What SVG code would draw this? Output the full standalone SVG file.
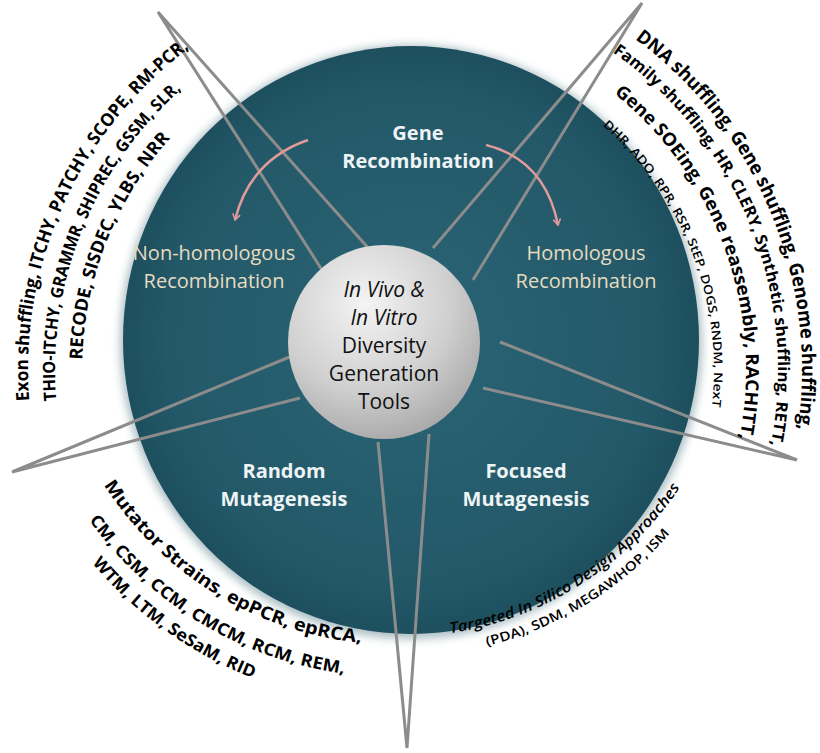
<svg xmlns="http://www.w3.org/2000/svg" width="820" height="753" viewBox="0 0 820 753">
<style>
.cur{font-family:"Open Sans","Liberation Sans",sans-serif;font-weight:bold;fill:#000}
.lab{font-family:"Open Sans","Liberation Sans",sans-serif;font-size:20px;text-anchor:middle}
.w{fill:#eef4f6;font-weight:bold}
.b{fill:#e6dcc0}
.c{font-family:"Open Sans","Liberation Sans",sans-serif;font-size:21px;text-anchor:middle;fill:#111}
.sp{stroke:#8c8c8c;stroke-width:3;fill:none}
.ar{stroke:#e09a9a;stroke-width:2.5;fill:none}
</style>
<defs>
<radialGradient id="tg" cx="0.5" cy="0.5" r="0.5">
<stop offset="0" stop-color="#2a6576"/><stop offset="0.85" stop-color="#235868"/><stop offset="1" stop-color="#1d4f5e"/>
</radialGradient>
<radialGradient id="gg" cx="0.4" cy="0.3" r="0.75">
<stop offset="0" stop-color="#f4f4f4"/><stop offset="0.6" stop-color="#cfcfcf"/><stop offset="1" stop-color="#a6a6a6"/>
</radialGradient>
<filter id="sh" x="-10%" y="-10%" width="120%" height="120%"><feGaussianBlur stdDeviation="4"/></filter>
<marker id="ah" viewBox="0 0 12 12" refX="9" refY="6" markerWidth="9" markerHeight="9" orient="auto" markerUnits="userSpaceOnUse">
<path d="M1,1 L9,6 L1,11" fill="none" stroke="#e09a9a" stroke-width="2"/>
</marker>
<path id="L1" d="M29.2,400.8 A402,402 0 0 1 190.9,46.8"/>
<path id="L2" d="M56.3,400.7 A375,375 0 0 1 184,87"/>
<path id="L3" d="M82.2,359.7 A348,348 0 0 1 171.4,137.2"/>
<path id="R1" d="M635,39 A412,412 0 0 1 797.4,431.6"/>
<path id="R2" d="M612.6,52.2 A388,388 0 0 1 770.1,448"/>
<path id="R3" d="M614,93.3 A356,356 0 0 1 738.5,442.8"/>
<path id="R4" d="M602.6,125.5 A324,324 0 0 1 711.6,409.5"/>
<path id="B1" d="M104,485 A345,345 0 0 0 364,643"/>
<path id="B2" d="M89,520 A376,376 0 0 0 347,674"/>
<path id="B3" d="M92,563 A405,405 0 0 0 258,680"/>
<path id="F1" d="M450.4,633.2 A337,337 0 0 0 678.7,489.4"/>
<path id="F2" d="M487.1,646 A357,357 0 0 0 672,531"/>
</defs>
<rect width="820" height="753" fill="#fff"/>
<g id="outer">
<ellipse cx="411" cy="342" rx="291" ry="297" fill="#5a7f8a" opacity="0.5" filter="url(#sh)"/>
<ellipse cx="411" cy="340" rx="288" ry="294" fill="url(#tg)"/>
</g>
<g id="connectors">
<path class="sp" d="M322,270 L158,12 L370,250"/>
<path class="sp" d="M433,248 L642,3 L473,280"/>
<path class="sp" d="M500,342 L797,460 L483,388"/>
<path class="sp" d="M378,442 L407,748 L429,434"/>
<path class="sp" d="M292,356 L12,472 L300,398"/>
<path class="ar" d="M308,140 Q250,160 235,220" marker-end="url(#ah)"/>
<path class="ar" d="M486,145 Q545,160 558,225" marker-end="url(#ah)"/>
</g>
<g id="center">
<ellipse cx="384" cy="342" rx="96" ry="97" fill="url(#gg)"/>
<text class="c" x="384" y="297" font-style="italic">In Vivo &amp;</text>
<text class="c" x="384" y="325" font-style="italic">In Vitro</text>
<text class="c" x="384" y="353">Diversity</text>
<text class="c" x="384" y="381">Generation</text>
<text class="c" x="384" y="409">Tools</text>
</g>
<g id="gene">
<text class="lab w" x="418" y="140">Gene</text>
<text class="lab w" x="418" y="168">Recombination</text>
</g>
<g id="nonhom">
<text class="lab b" x="214" y="260">Non-homologous</text>
<text class="lab b" x="214" y="288">Recombination</text>
</g>
<g id="hom">
<text class="lab b" x="586" y="260">Homologous</text>
<text class="lab b" x="586" y="288">Recombination</text>
</g>
<g id="random">
<text class="lab w" x="284" y="478">Random</text>
<text class="lab w" x="284" y="506">Mutagenesis</text>
</g>
<g id="focused">
<text class="lab w" x="526" y="478">Focused</text>
<text class="lab w" x="526" y="506">Mutagenesis</text>
</g>
<g id="lists">
<text class="cur" font-size="18"><textPath href="#L1" textLength="404" lengthAdjust="spacingAndGlyphs">Exon shuffling, ITCHY, PATCHY, SCOPE, RM-PCR,</textPath></text>
<text class="cur" font-size="17"><textPath href="#L2" textLength="348" lengthAdjust="spacingAndGlyphs">THIO-ITCHY, GRAMMR, SHIPREC, GSSM, SLR,</textPath></text>
<text class="cur" font-size="18"><textPath href="#L3" textLength="243" lengthAdjust="spacingAndGlyphs">RECODE, SISDEC, YLBS, NRR</textPath></text>
<text class="cur" font-size="19"><textPath href="#R1" textLength="444" lengthAdjust="spacingAndGlyphs">DNA shuffling, Gene shuffling, Genome shuffling,</textPath></text>
<text class="cur" font-size="16"><textPath href="#R2" textLength="448" lengthAdjust="spacingAndGlyphs">Family shuffling, HR, CLERY, Synthetic shuffling, RETT,</textPath></text>
<text class="cur" font-size="18"><textPath href="#R3" textLength="386" lengthAdjust="spacingAndGlyphs">Gene SOEing, Gene reassembly, RACHITT,</textPath></text>
<text class="cur" font-size="12" style="font-weight:600"><textPath href="#R4" textLength="314" lengthAdjust="spacingAndGlyphs">DHR, ADO, RPR, RSR, StEP, DOGS, RNDM, NexT</textPath></text>
<text class="cur" font-size="18"><textPath href="#B1" textLength="312" lengthAdjust="spacingAndGlyphs">Mutator Strains, epPCR, epRCA,</textPath></text>
<text class="cur" font-size="17"><textPath href="#B2" textLength="306" lengthAdjust="spacingAndGlyphs">CM, CSM, CCM, CMCM, RCM, REM,</textPath></text>
<text class="cur" font-size="17"><textPath href="#B3" textLength="200" lengthAdjust="spacingAndGlyphs">WTM, LTM, SeSaM, RID</textPath></text>
<text class="cur" font-size="15" font-style="italic" style="font-weight:600"><textPath href="#F1" textLength="280" lengthAdjust="spacingAndGlyphs">Targeted In Silico Design Approaches</textPath></text>
<text class="cur" font-size="13" style="font-weight:600"><textPath href="#F2" textLength="218" lengthAdjust="spacingAndGlyphs">(PDA), SDM, MEGAWHOP, ISM</textPath></text>
</g>
</svg>
